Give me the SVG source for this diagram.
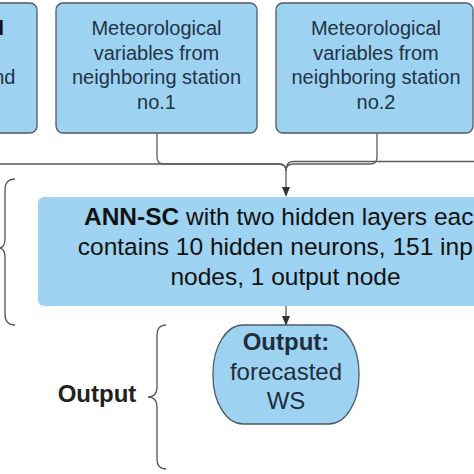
<svg xmlns="http://www.w3.org/2000/svg" width="474" height="474" viewBox="0 0 474 474">
<style>
.box{fill:#9ed2f1;stroke:#4f5b66;stroke-width:1.3}
.bt{font-family:"Liberation Sans",Arial,sans-serif;font-size:20px;fill:#223447;text-anchor:middle}
.at{font-family:"Liberation Sans",Arial,sans-serif;font-size:24.5px;fill:#111;text-anchor:middle}
.ot{font-family:"Liberation Sans",Arial,sans-serif;font-size:24px;fill:#1f2e3d;text-anchor:middle}
.b{font-weight:bold}
.ln{fill:none;stroke:#5c5c5c;stroke-width:1.3}
.br{fill:none;stroke:#555;stroke-width:1.3}
</style>
<defs>
<marker id="ah" markerWidth="10" markerHeight="12" refX="10" refY="5" orient="auto" markerUnits="userSpaceOnUse" viewBox="0 0 12 10">
<path d="M0,0 L12,5 L0,10 Z" fill="#333"/>
</marker>
</defs>
<rect width="474" height="474" fill="#fff"/>
<g id="box1">
<rect class="box" x="-164" y="3" width="201" height="130" rx="7"/>
<text class="bt b" x="4" y="35" style="text-anchor:end;fill:#111">d</text>
<text class="bt" x="15.5" y="84" style="text-anchor:end">nd</text>
</g>
<g id="box2">
<rect class="box" x="56" y="3" width="201" height="130" rx="7"/>
<text class="bt" x="156.5" y="35">Meteorological</text>
<text class="bt" x="156.5" y="60">variables from</text>
<text class="bt" x="156.5" y="84">neighboring station</text>
<text class="bt" x="156.5" y="109">no.1</text>
</g>
<g id="box3">
<rect class="box" x="276" y="3" width="197" height="130" rx="7"/>
<text class="bt" x="376" y="35">Meteorological</text>
<text class="bt" x="376" y="60">variables from</text>
<text class="bt" x="376" y="84">neighboring station</text>
<text class="bt" x="376" y="109">no.2</text>
</g>
<g id="connectors">
<path class="ln" d="M -10 164 H 279 Q 286 164 286 171"/>
<path class="ln" d="M 157 133 V 157 Q 157 164 164 164 H 279 Q 286 164 286 171 V 195" marker-end="url(#ah)"/>
<path class="ln" d="M 377 133 V 157 Q 377 164 370 164 H 293 Q 286 164 286 171"/>
<path class="ln" d="M 484 161.5 H 293 Q 287 161.5 286.5 168"/>
<path class="ln" d="M 286 306 V 324" marker-end="url(#ah)"/>
</g>
<g id="ann">
<rect x="38" y="197" width="450" height="109" rx="6" fill="#9fd3f2"/>
<text class="at" x="285.5" y="225"><tspan class="b">ANN-SC</tspan> with two hidden layers each</text>
<text class="at" x="285.5" y="255">contains 10 hidden neurons, 151 input</text>
<text class="at" x="285.5" y="285">nodes, 1 output node</text>
</g>
<g id="output">
<rect class="box" x="213" y="325" width="146" height="99" rx="30" ry="48"/>
<text class="ot b" x="286" y="350">Output:</text>
<text class="ot" x="286" y="380">forecasted</text>
<text class="ot" x="286" y="409">WS</text>
</g>
<g id="braces">
<path class="br" d="M 15 179 Q 5 179 5 190 V 238 Q 5 248 -1 248 Q 5 248 5 258 V 314 Q 5 325 15 325"/>
<path class="br" d="M 166 325 Q 157 325 157 335 V 387 Q 157 397 148 397 Q 157 397 157 407 V 459 Q 157 469 166 469"/>
<text class="at b" x="97" y="402" style="fill:#222;font-size:24px">Output</text>
</g>
</svg>
